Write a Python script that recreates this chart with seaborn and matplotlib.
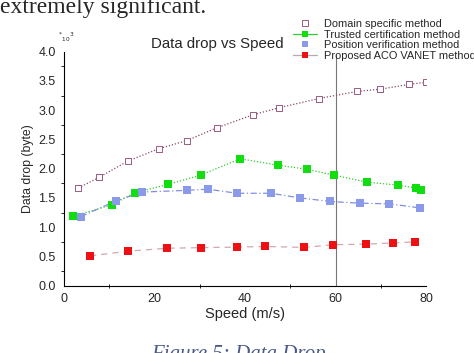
import numpy as np
import pandas as pd
import matplotlib
matplotlib.use('Agg')
import matplotlib.pyplot as plt
import seaborn as sns
from matplotlib.lines import Line2D
from matplotlib.ticker import MultipleLocator

# 数据：从图中读取（单位 *10^3 byte）
domain_x = [3.2, 7.7, 14.1, 20.9, 27.1, 33.8, 41.7, 47.4, 56.3, 64.7, 69.9, 76.2, 80.0]
domain_y = [1.67, 1.85, 2.13, 2.34, 2.48, 2.70, 2.92, 3.04, 3.20, 3.32, 3.36, 3.44, 3.48]

trusted_x = [2.1, 10.5, 15.7, 22.9, 30.2, 38.9, 47.3, 53.7, 59.6, 67.0, 73.7, 77.8, 78.9]
trusted_y = [1.19, 1.38, 1.59, 1.73, 1.89, 2.17, 2.06, 1.99, 1.89, 1.77, 1.72, 1.67, 1.63]

position_x = [3.7, 11.5, 17.2, 27.1, 31.8, 38.2, 45.7, 52.2, 58.8, 65.3, 71.8, 78.6]
position_y = [1.18, 1.45, 1.60, 1.63, 1.65, 1.58, 1.58, 1.50, 1.44, 1.41, 1.40, 1.33]

proposed_x = [5.75, 14.2, 22.8, 30.2, 38.3, 44.5, 53.1, 59.4, 66.7, 72.6, 77.5]
proposed_y = [0.51, 0.59, 0.64, 0.65, 0.66, 0.67, 0.655, 0.70, 0.71, 0.73, 0.75]

series_names = ['Domain specific method', 'Trusted certification method',
                'Position verification method', 'Proposed ACO VANET method']

sns.set_style('white')
plt.rcParams['font.family'] = ['Liberation Sans', 'DejaVu Sans']

fig = plt.figure(figsize=(4.74, 3.53), dpi=100)
ax = fig.add_axes([0.135, 0.1907, 0.764, 0.6628])

# 线条
sns.lineplot(x=domain_x, y=domain_y, ax=ax, color='#8a4a6e', lw=0.9, linestyle=(0, (1, 1.5)), sort=False)
sns.lineplot(x=trusted_x, y=trusted_y, ax=ax, color='#33cc33', lw=0.9, linestyle=(0, (1, 1.5)), sort=False)
sns.lineplot(x=position_x, y=position_y, ax=ax, color='#8090dd', lw=0.9, linestyle=(0, (5, 2, 1, 2)), sort=False)
sns.lineplot(x=proposed_x, y=proposed_y, ax=ax, color='#d0a8b0', lw=0.9, linestyle=(0, (5, 4)), sort=False)

# 标记点
sns.scatterplot(x=domain_x, y=domain_y, ax=ax, marker='s', s=24, facecolor='white',
                edgecolor='#9a5a80', linewidth=0.7, zorder=3)
sns.scatterplot(x=trusted_x, y=trusted_y, ax=ax, marker='s', s=30, color='#11dd11',
                edgecolor='#11dd11', linewidth=0, zorder=3)
sns.scatterplot(x=position_x, y=position_y, ax=ax, marker='s', s=28, color='#8a9ae8',
                edgecolor='#8a9ae8', linewidth=0, zorder=3)
sns.scatterplot(x=proposed_x, y=proposed_y, ax=ax, marker='s', s=28, color='#ee1111',
                edgecolor='#ee1111', linewidth=0, zorder=3)

ax.axvline(60, ymax=0.985, color='#777777', lw=0.8, zorder=1)

ax.set_xlim(0, 80)
ax.set_ylim(0, 4)
ax.xaxis.set_major_locator(MultipleLocator(20))
ax.xaxis.set_minor_locator(MultipleLocator(10))
ax.yaxis.set_major_locator(MultipleLocator(0.5))
ax.yaxis.set_minor_locator(MultipleLocator(0.25))
ax.yaxis.set_major_formatter(matplotlib.ticker.FormatStrFormatter('%.1f'))
ax.tick_params(axis='y', which='major', direction='out', length=4, width=0.8, labelsize=9, pad=2)
ax.tick_params(axis='y', which='minor', direction='out', length=2.5, width=0.7, left=True)
ax.tick_params(axis='x', which='major', direction='inout', length=4, width=0.8, labelsize=9, pad=3)
ax.tick_params(axis='x', which='minor', direction='inout', length=2.5, width=0.7, bottom=True)
for s in ['top', 'right']:
    ax.spines[s].set_visible(False)
for s in ['left', 'bottom']:
    ax.spines[s].set_color('black')
    ax.spines[s].set_linewidth(0.8)

ax.set_xlabel('Speed (m/s)', fontsize=10.5, labelpad=2)
ax.set_ylabel('Data drop (byte)', fontsize=8.8, labelpad=3)

fig.text(217 / 474, 1 - 44 / 353, 'Data drop vs Speed', fontsize=10.8, ha='center', va='center')
fig.text(66 / 474, 1 - 37 / 353, r'$^{*}{}_{10}{}^{3}$', fontsize=6, ha='center', va='center')

# 图例
handles = [
    Line2D([], [], linestyle='none', marker='s', markersize=4.5, markerfacecolor='white',
           markeredgecolor='#9a5a80', markeredgewidth=0.7),
    Line2D([], [], color='#33cc33', lw=0.9, marker='s', markersize=5, markerfacecolor='#11dd11',
           markeredgewidth=0),
    Line2D([], [], linestyle='none', marker='s', markersize=5, markerfacecolor='#8a9ae8',
           markeredgewidth=0),
    Line2D([], [], color='#b8a8b0', lw=0.9, marker='s', markersize=5, markerfacecolor='#ee1111',
           markeredgewidth=0),
]
fig.legend(handles, series_names, loc='upper left', bbox_to_anchor=(293 / 474, 1 - 19 / 353),
           frameon=False, fontsize=7.9, handlelength=2.2, handletextpad=0.6,
           labelspacing=0.05, borderaxespad=0, borderpad=0)

# 文档周围的文字（被裁切）
fig.text(0, 1 + 3 / 353, 'extremely significant.', fontsize=17, family='Liberation Serif',
         ha='left', va='top')
fig.text(238 / 474, -6 / 353, 'Figure 5: Data Drop', fontsize=15, family='Liberation Serif',
         style='italic', color='#4a5a8a', ha='center', va='baseline')

fig.savefig('out.png', dpi=100)
